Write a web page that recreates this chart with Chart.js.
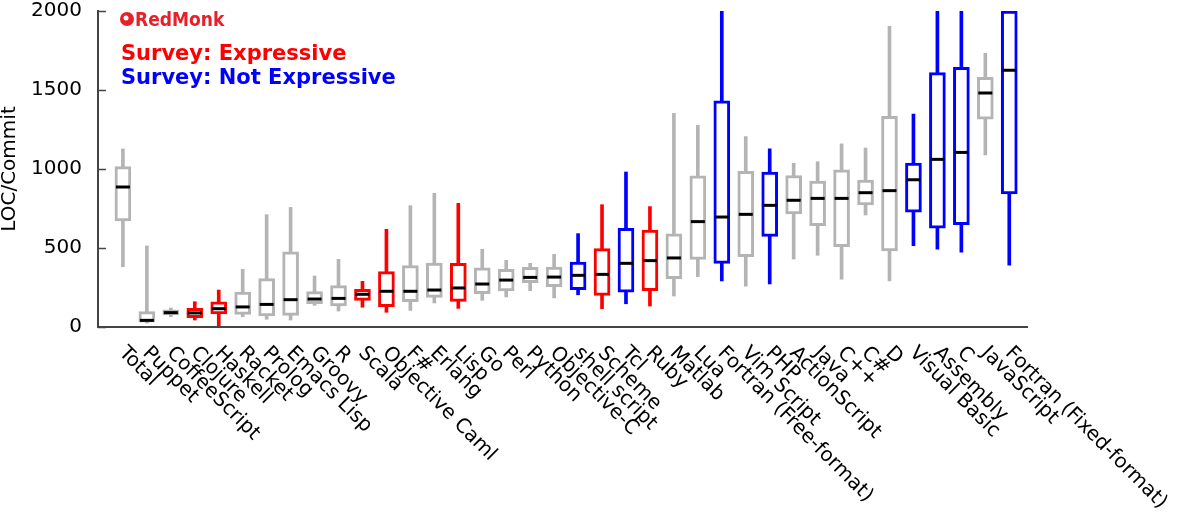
<!DOCTYPE html>
<html>
<head>
<meta charset="utf-8">
<script src="https://cdn.jsdelivr.net/npm/chart.js@4.4.0/dist/chart.umd.min.js"></script>
<style>
  html, body { margin: 0; padding: 0; background: #fff; }
  #wrap { width: 1181px; height: 520px; }
</style>
</head>
<body>
<div id="wrap"><canvas id="chart" width="1181" height="520"></canvas></div>
<script>
// languages, ordered by median LOC/commit
const languages = ['Total','Puppet','CoffeeScript','Clojure','Haskell','Racket','Prolog','Emacs Lisp','Groovy','R',
  'Scala','Objective Caml','F#','Erlang','Lisp','Go','Perl','Python','Objective-C','shell script',
  'Scheme','Tcl','Ruby','Matlab','Lua','Fortran (Free-format)','Vim Script','PHP','ActionScript','Java',
  'C++','C#','D','Visual Basic','Assembly','C','JavaScript','Fortran (Fixed-format)'];
// box plot stats (LOC/commit)
const whiskerLow  = [382,25,65,44,8,65,49,44,137,101,125,93,105,152,118,169,190,230,184,204,116,147,133,196,319,291,259,272,430,454,302,709,291,515,492,473,1089,391];
const quartile1   = [671,30,76,59,82,80,70,74,147,133,169,129,160,188,162,211,228,280,255,236,200,221,230,306,428,403,445,574,715,641,508,772,481,726,625,648,1316,842];
const medians     = [886,42,91,89,116,127,143,173,177,181,207,226,226,234,247,272,297,314,316,327,333,403,420,437,667,696,713,770,802,814,814,850,863,932,1061,1105,1481,1625];
const quartile3   = [1015,97,108,118,160,221,306,475,224,262,238,350,388,405,403,375,365,378,380,411,496,625,614,589,956,1432,985,981,958,924,994,930,1333,1038,1610,1643,1580,2000];
const whiskerHigh = [1127,513,120,160,234,365,711,757,323,428,289,618,768,846,783,492,422,403,460,591,774,981,762,1352,1277,2000,1205,1127,1036,1046,1160,1133,1903,1348,2000,2000,1732,2000];
// survey answer: E = expressive, N = not expressive, '' = not in survey
const survey = ['','','','E','E','','','','','','E','E','','','E','','','','','N','E','N','E','','','N','','N','','','','','','N','N','N','','N'];
const yTicks = [0,500,1000,1500,2000];

const colorFor = {E:'#ff0000', N:'#0000ff', '':'#b4b4b4'};
const colors = survey.map(s => colorFor[s]);

const FONT = '"DejaVu Sans", "Liberation Sans", sans-serif';

const overlayPlugin = {
  id: 'overlay',
  afterDraw(chart){
    const ctx = chart.ctx;
    const xs = chart.scales.x, ys = chart.scales.y;
    const area = chart.chartArea;
    ctx.save();
    // inward y ticks
    ctx.strokeStyle = '#444';
    ctx.lineWidth = 1.5;
    yTicks.forEach(v => {
      const py = Math.round(ys.getPixelForValue(v)) + 0.5;
      ctx.beginPath(); ctx.moveTo(area.left, py); ctx.lineTo(area.left + 8, py); ctx.stroke();
    });
    // rotated category labels
    ctx.fillStyle = '#000';
    ctx.font = '20px ' + FONT;
    ctx.textAlign = 'left';
    ctx.textBaseline = 'top';
    languages.forEach((name, i) => {
      const px = xs.getPixelForValue(i);
      ctx.save();
      ctx.translate(px + 6, area.bottom + 16);
      ctx.rotate(Math.PI / 4);
      ctx.fillText(name, 0, 0);
      ctx.restore();
    });
    // RedMonk mark
    ctx.fillStyle = '#e8202a';
    ctx.beginPath(); ctx.arc(127, 19, 7, 0, Math.PI * 2); ctx.fill();
    ctx.fillStyle = '#fff';
    ctx.beginPath(); ctx.arc(126, 18, 2.5, 0, Math.PI * 2); ctx.fill();
    ctx.fillStyle = '#e8202a';
    ctx.font = 'bold 19px "Liberation Sans Narrow", "DejaVu Sans Condensed", sans-serif';
    ctx.textBaseline = 'alphabetic';
    ctx.fillText('RedMonk', 135, 26);
    // survey key
    ctx.font = 'bold 21px ' + FONT;
    ctx.fillStyle = colorFor.E;
    ctx.fillText('Survey: Expressive', 121, 60);
    ctx.fillStyle = colorFor.N;
    ctx.fillText('Survey: Not Expressive', 121, 84);
    ctx.restore();
  }
};

const idx = languages.map((_, i) => i);

new Chart(document.getElementById('chart'), {
  type: 'bar',
  data: {
    datasets: [
      {
        label: 'whisker',
        data: idx.map(i => ({x: i, y: [whiskerLow[i], whiskerHigh[i]]})),
        backgroundColor: colors,
        borderWidth: 0,
        barThickness: 3,
        grouped: false,
        order: 3,
        clip: 0
      },
      {
        label: 'box',
        data: idx.map(i => ({x: i, y: [quartile1[i], quartile3[i]]})),
        backgroundColor: '#ffffff',
        borderColor: colors,
        borderWidth: 3,
        borderSkipped: false,
        barThickness: 16,
        grouped: false,
        order: 2,
        clip: 0
      },
      {
        type: 'line',
        label: 'median',
        data: idx.map(i => ({x: i, y: medians[i]})),
        showLine: false,
        pointStyle: 'line',
        pointRadius: 7,
        pointBorderWidth: 3,
        pointBorderColor: '#000',
        order: 1,
        clip: 0
      }
    ]
  },
  options: {
    responsive: false,
    animation: false,
    events: [],
    layout: { padding: { left: 0, top: 11, right: 154, bottom: 0 } },
    plugins: { legend: { display: false }, tooltip: { enabled: false } },
    scales: {
      x: {
        type: 'linear',
        offset: false,
        bounds: 'ticks',
        min: -1.04,
        max: 37.74,
        grid: { display: false, offset: false },
        ticks: { display: false },
        border: { color: '#444', width: 2 },
        afterFit(s){ s.height = 193; s.paddingLeft = 0; s.paddingRight = 0; }
      },
      y: {
        min: 0,
        max: 2000,
        grid: { display: false },
        border: { color: '#444', width: 2 },
        ticks: {
          stepSize: 500,
          padding: 8,
          color: '#000',
          font: { family: FONT, size: 20 },
          callback: v => String(v)
        },
        title: {
          display: true,
          text: 'LOC/Commit',
          color: '#000',
          padding: 0,
          font: { family: FONT, size: 20, lineHeight: 1 }
        },
        afterFit(s){ s.width = 98; s.paddingTop = 0; s.paddingBottom = 0; }
      }
    }
  },
  plugins: [overlayPlugin]
});
</script>
</body>
</html>
